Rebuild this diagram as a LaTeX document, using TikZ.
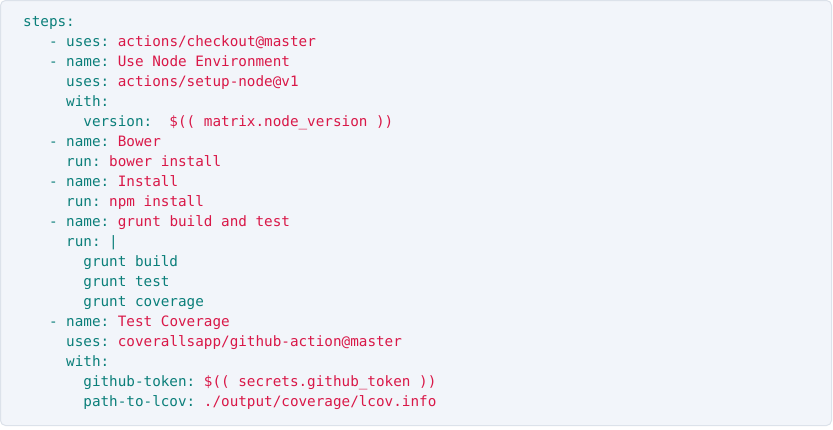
\documentclass[tikz,border=0pt]{standalone}
\usepackage{fontspec}
\setmonofont{DejaVu Sans Mono}[Scale=1]
\definecolor{keyc}{HTML}{0B7F7A}
\definecolor{valc}{HTML}{D91848}
\definecolor{bgc}{HTML}{F2F5FA}
\definecolor{bdc}{HTML}{DCE2EA}
\newcommand{\K}[1]{\textcolor{keyc}{#1}}
\newcommand{\V}[1]{\textcolor{valc}{#1}}
\begin{document}
\begin{tikzpicture}[x=1pt,y=-1pt,
  codeline/.style={anchor=base west,inner sep=0pt,font=\fontsize{14.3}{16}\ttfamily}]
\useasboundingbox (0,0) rectangle (833,429);
\draw[bdc,fill=bgc,rounded corners=5pt,line width=1pt] (0.5,0.5) rectangle (831.5,425.5);
\def\cw{8.6}
\foreach \n/\c/\t in {
 1/0/{\K{steps:}},
 2/3/{\K{- uses:} \V{actions/checkout@master}},
 3/3/{\K{- name:} \V{Use Node Environment}},
 4/5/{\K{uses:} \V{actions/setup-node@v1}},
 5/5/{\K{with:}},
 6/7/{\K{version:}\ \ \V{\$(( matrix.node\_version ))}},
 7/3/{\K{- name:} \V{Bower}},
 8/5/{\K{run:} \V{bower install}},
 9/3/{\K{- name:} \V{Install}},
 10/5/{\K{run:} \V{npm install}},
 11/3/{\K{- name:} \V{grunt build and test}},
 12/5/{\K{run:} \K{|}},
 13/7/{\K{grunt build}},
 14/7/{\K{grunt test}},
 15/7/{\K{grunt coverage}},
 16/3/{\K{- name:} \V{Test Coverage}},
 17/5/{\K{uses:} \V{coverallsapp/github-action@master}},
 18/5/{\K{with:}},
 19/7/{\K{github-token:} \V{\$(( secrets.github\_token ))}},
 20/7/{\K{path-to-lcov:} \V{./output/coverage/lcov.info}}}
{ \node[codeline] (l\n) at ({23+\c*\cw},{26+(\n-1)*20}) {\t}; }
\end{tikzpicture}
\end{document}
